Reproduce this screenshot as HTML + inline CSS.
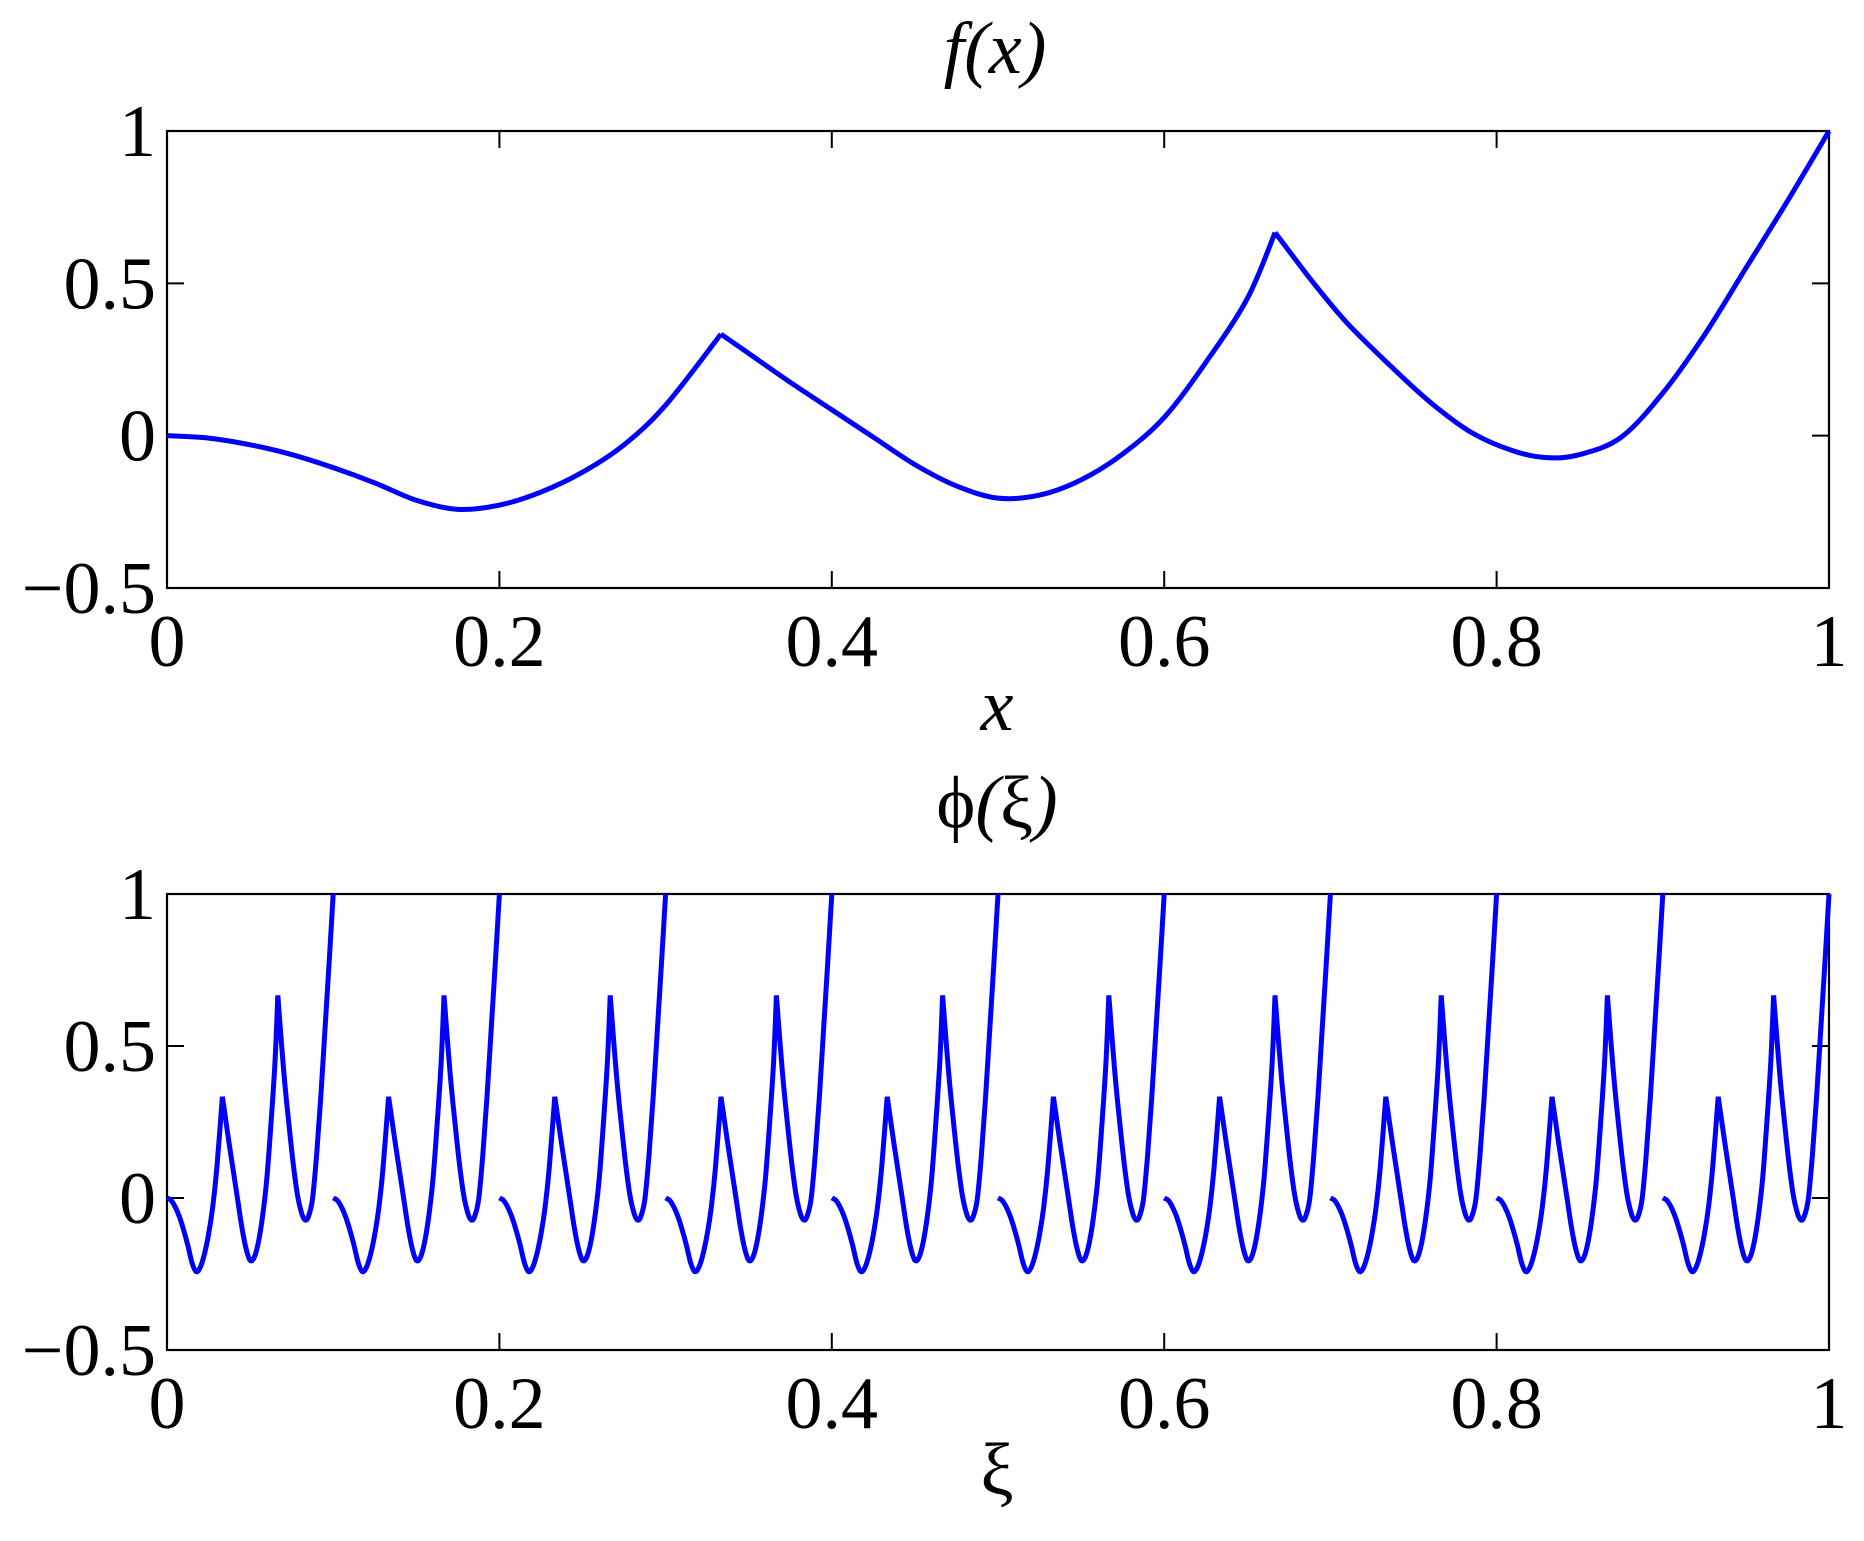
<!DOCTYPE html>
<html>
<head>
<meta charset="utf-8">
<style>
  html,body{margin:0;padding:0;background:#fff;}
  svg{display:block;}
  text{font-family:"Liberation Serif","DejaVu Serif",serif;fill:#000;}
</style>
</head>
<body>
<svg id="chart" width="1864" height="1541" viewBox="0 0 1864 1541" xmlns="http://www.w3.org/2000/svg"></svg>
<script>
// ---- data ----
const fxX = [0,0.025,0.05,0.075,0.1,0.125,0.15,0.175,0.2,0.225,0.25,0.275,0.3,0.3333,
             0.35,0.375,0.4,0.425,0.45,0.475,0.5,0.525,0.55,0.575,0.6,0.625,0.65,0.6667,
             0.69,0.71,0.735,0.76,0.785,0.81,0.83,0.85,0.875,0.9,0.925,0.95,0.975,1];
const fxY = [0,-0.008,-0.03,-0.062,-0.105,-0.155,-0.212,-0.242,-0.228,-0.185,-0.12,-0.03,0.1,0.3333,
             0.27,0.175,0.085,-0.005,-0.095,-0.165,-0.205,-0.195,-0.145,-0.06,0.06,0.24,0.45,0.6667,
             0.5,0.37,0.235,0.11,0.01,-0.05,-0.072,-0.062,-0.005,0.14,0.33,0.55,0.77,1];
const kinkX = [0.3333,0.6667];
const periods = 10;
const xTicks = [0,0.2,0.4,0.6,0.8,1];
const xTickLabels = ["0","0.2","0.4","0.6","0.8","1"];
const yTicks = [-0.5,0,0.5,1];
const yTickLabels = ["\u22120.5","0","0.5","1"];

const NS = "http://www.w3.org/2000/svg";
const svg = document.getElementById('chart');
function mk(tag, attrs, parent){
  const e = document.createElementNS(NS, tag);
  for (const k in attrs) e.setAttribute(k, attrs[k]);
  (parent||svg).appendChild(e);
  return e;
}
const L = 167, R = 1829;
const panels = [{top:131,bottom:588},{top:894,bottom:1350}];

function sx(v){ return L + (v-0)/(1-0)*(R-L); }
function syF(p){ return v => p.bottom - (v+0.5)/1.5*(p.bottom-p.top); }

function smoothPath(pts){
  if (pts.length<2) return "";
  let d = "M"+pts[0][0].toFixed(2)+","+pts[0][1].toFixed(2);
  for (let i=0;i<pts.length-1;i++){
    const p0 = pts[i-1]||pts[i], p1=pts[i], p2=pts[i+1], p3=pts[i+2]||pts[i+1];
    const c1x = p1[0]+(p2[0]-p0[0])/6, c1y = p1[1]+(p2[1]-p0[1])/6;
    const c2x = p2[0]-(p3[0]-p1[0])/6, c2y = p2[1]-(p3[1]-p1[1])/6;
    d += " C"+c1x.toFixed(2)+","+c1y.toFixed(2)+" "+c2x.toFixed(2)+","+c2y.toFixed(2)+" "+p2[0].toFixed(2)+","+p2[1].toFixed(2);
  }
  return d;
}
function segments(){
  const segs=[]; let cur=[];
  for (let i=0;i<fxX.length;i++){
    cur.push([fxX[i],fxY[i]]);
    if (kinkX.some(k=>Math.abs(k-fxX[i])<1e-6)){ segs.push(cur); cur=[[fxX[i],fxY[i]]]; }
  }
  segs.push(cur);
  return segs;
}

function drawAxes(p, g){
  const sy = syF(p);
  const box = mk('rect',{x:L,y:p.top,width:R-L,height:p.bottom-p.top,fill:'none',stroke:'#000','stroke-width':2.2},g);
  
  
  xTicks.forEach((t,i)=>{
    const x = sx(t);
    const t1 = mk('line',{x1:x,y1:p.bottom,x2:x,y2:p.bottom-17,stroke:'#000','stroke-width':2},g);
    
    
    const t2 = mk('line',{x1:x,y1:p.top,x2:x,y2:p.top+17,stroke:'#000','stroke-width':2},g);
    
    
    const lb = mk('text',{x:x,y:p.bottom+78,'font-size':74,'text-anchor':'middle'},g);
    lb.textContent = xTickLabels[i];
    
    
  });
  yTicks.forEach((t,i)=>{
    const y = sy(t);
    const t1 = mk('line',{x1:L,y1:y,x2:L+17,y2:y,stroke:'#000','stroke-width':2},g);
    
    
    const t2 = mk('line',{x1:R,y1:y,x2:R-17,y2:y,stroke:'#000','stroke-width':2},g);
    
    
    const lb = mk('text',{x:156,y:y+25,'font-size':74,'text-anchor':'end'},g);
    lb.textContent = yTickLabels[i];
    
    
  });
}

const g1 = mk('g',{});


drawAxes(panels[0], g1);
(function(){
  const sy = syF(panels[0]);
  let d="";
  segments().forEach(seg=>{ d += smoothPath(seg.map(q=>[sx(q[0]),sy(q[1])])) + " "; });
  const path = mk('path',{d:d,fill:'none',stroke:'#0000ff','stroke-width':5,'stroke-linejoin':'round'},g1);
  
  
})();
const t1 = mk('text',{x:995,y:73,'font-size':74,'text-anchor':'middle','font-style':'italic'},g1);
t1.textContent = "f(x)";


const xl = mk('text',{x:997,y:730,'font-size':74,'text-anchor':'middle','font-style':'italic'},g1);
xl.textContent = "x";



const g2 = mk('g',{});


drawAxes(panels[1], g2);
(function(){
  const sy = syF(panels[1]);
  let d="";
  for (let k=0;k<periods;k++){
    segments().forEach(seg=>{
      d += smoothPath(seg.map(q=>[sx((k+q[0])/periods),sy(q[1])])) + " ";
    });
  }
  const path = mk('path',{d:d,fill:'none',stroke:'#0000ff','stroke-width':5,'stroke-linejoin':'round'},g2);
  
  
})();
const t2 = mk('text',{x:997,y:827,'font-size':74,'text-anchor':'middle'},g2);
t2.innerHTML = '\u03D5<tspan font-style="italic">(</tspan>\u03BE<tspan font-style="italic">)</tspan>';


const xl2 = mk('text',{x:997,y:1494,'font-size':74,'text-anchor':'middle'},g2);
xl2.textContent = "\u03BE";


</script>
</body>
</html>
